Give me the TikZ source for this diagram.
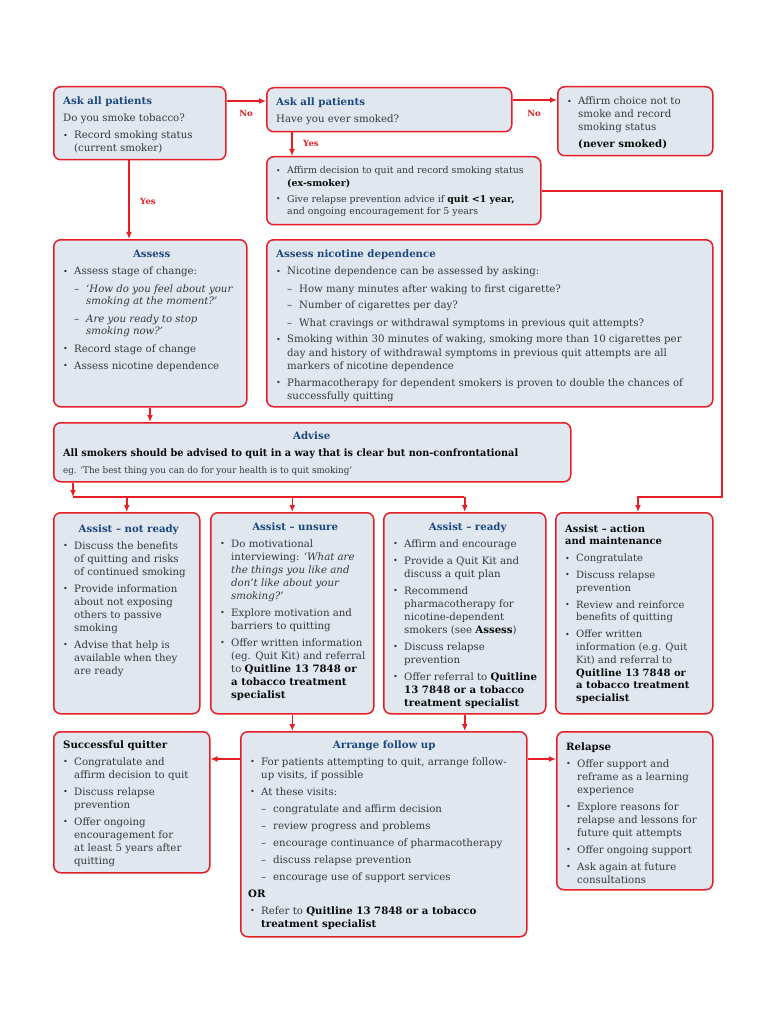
\documentclass[tikz,border=0pt]{standalone}
\usepackage{fontspec}
\setmainfont{DejaVu Serif}
\usepackage{graphicx}
\usetikzlibrary{arrows.meta}
\definecolor{ared}{RGB}{230,30,40}
\definecolor{bfill}{RGB}{225,231,239}
\definecolor{hblue}{RGB}{28,72,130}
\definecolor{tgray}{RGB}{55,55,60}
\definecolor{tblack}{RGB}{10,10,10}
\newcommand\hd[1]{\textcolor{hblue}{\bfseries #1}}
\newcommand\bk[1]{\textcolor{tblack}{\bfseries #1}}
\newcommand\bl{\par\hangindent=11pt\hangafter=1\noindent\hbox to 11pt{\raisebox{0.6pt}{\scalebox{0.8}{•}}\hss}}
\newcommand\ds{\par\hangindent=23pt\hangafter=1\noindent\hspace*{11pt}\hbox to 12pt{–\hss}}
\newcommand\bodyfmt{\raggedright\fontsize{10.2}{13}\selectfont\setlength\parskip{4pt}\setlength\parindent{0pt}}
\newcommand\bxt[2]{\begin{minipage}[t]{#1}\bodyfmt #2\end{minipage}}
\begin{document}
\begin{tikzpicture}[x=1pt,y=-1pt,
  box/.style={draw=ared, fill=bfill, line width=1.5pt, rounded corners=7pt, anchor=north west, inner sep=0pt},
  txt/.style={anchor=base west, inner sep=0pt, text=tgray},
  arr/.style={draw=ared, line width=1.5pt, -{Latex[length=7pt,width=6pt]}},
  wire/.style={draw=ared, line width=1.5pt},
  lbl/.style={text=ared, inner sep=0pt, font=\fontsize{8.5}{10}\selectfont\bfseries}]
\useasboundingbox (0,0) rectangle (768,1024);
\fill[white] (0,0) rectangle (768,1024);

% boxes
\node[box, minimum width=172pt, minimum height=73pt] (ask1) at (53,86) {};
\node[box, minimum width=245pt, minimum height=44pt] (ask2) at (266,87) {};
\node[box, minimum width=155pt, minimum height=69pt] (never) at (557,86) {};
\node[box, minimum width=274pt, minimum height=68pt] (ex) at (266,156) {};
\node[box, minimum width=193pt, minimum height=167pt] (assess) at (53,239) {};
\node[box, minimum width=446pt, minimum height=167pt] (nic) at (266,239) {};
\node[box, minimum width=517pt, minimum height=59pt] (advise) at (53,422) {};
\node[box, minimum width=146pt, minimum height=201pt] (notready) at (53,512) {};
\node[box, minimum width=163pt, minimum height=201pt] (unsure) at (210,512) {};
\node[box, minimum width=162pt, minimum height=201pt] (ready) at (383,512) {};
\node[box, minimum width=157pt, minimum height=201pt] (action) at (555,512) {};
\node[box, minimum width=156pt, minimum height=141pt] (success) at (53,731) {};
\node[box, minimum width=286pt, minimum height=205pt] (follow) at (240,731) {};
\node[box, minimum width=156pt, minimum height=158pt] (relapse) at (556,731) {};

% texts
\node[txt] (task1) at (63,105) {\bxt{158pt}{\hd{Ask all patients}\par
Do you smoke tobacco?
\bl Record smoking status\newline (current smoker)}};

\node[txt] (task2) at (276,106) {\bxt{229pt}{\hd{Ask all patients}\par
Have you ever smoked?}};

\node[txt] (tnever) at (567,105) {\bxt{141pt}{\bl Affirm choice not to\newline smoke and record\newline smoking status
\par\noindent\hspace*{11pt}\bk{(never smoked)}}};

\node[txt] (tex) at (276,174) {\bxt{260pt}{\fontsize{9.4}{12.5}\selectfont\setlength\parskip{3.5pt}%
\bl Affirm decision to quit and record smoking status\newline \bk{(ex-smoker)}
\bl Give relapse prevention advice if \bk{quit <1 year,}\newline and ongoing encouragement for 5 years}};

\node[txt] (tassess) at (63,258) {\bxt{177pt}{{\centering\hd{Assess}\par}
\bl Assess stage of change:
\ds \textit{‘How do you feel about your\newline smoking at the moment?’}
\ds \textit{Are you ready to stop\newline smoking now?’}
\bl Record stage of change
\bl Assess nicotine dependence}};

\node[txt] (tnic) at (276,258) {\bxt{432pt}{\hd{Assess nicotine dependence}\par
\bl Nicotine dependence can be assessed by asking:
\ds How many minutes after waking to first cigarette?
\ds Number of cigarettes per day?
\ds What cravings or withdrawal symptoms in previous quit attempts?
\bl Smoking within 30 minutes of waking, smoking more than 10 cigarettes per\newline day and history of withdrawal symptoms in previous quit attempts are all\newline markers of nicotine dependence
\bl Pharmacotherapy for dependent smokers is proven to double the chances of\newline successfully quitting}};

\node[txt] (tadvise) at (63,439) {\bxt{497pt}{{\centering\hd{Advise}\par}
\resizebox{455pt}{\height}{\bk{All smokers should be advised to quit in a way that is clear but non-confrontational}}\par
\resizebox{289pt}{\height}{\fontsize{9}{13}\selectfont eg. ‘The best thing you can do for your health is to quit smoking’}}};

\node[txt] (tnotready) at (63,532) {\bxt{131pt}{{\centering\hd{Assist – not ready}\par}
\bl Discuss the benefits\newline of quitting and risks\newline of continued smoking
\bl Provide information\newline about not exposing\newline others to passive\newline smoking
\bl Advise that help is\newline available when they\newline are ready}};

\node[txt] (tunsure) at (220,530) {\bxt{150pt}{{\centering\hd{Assist – unsure}\par}
\bl Do motivational\newline interviewing: \textit{‘What are\newline the things you like and\newline don’t like about your\newline smoking?’}
\bl Explore motivation and\newline barriers to quitting
\bl Offer written information\newline (eg. Quit Kit) and referral\newline to \bk{Quitline 13 7848 or\newline a tobacco treatment\newline specialist}}};

\node[txt] (tready) at (393,530) {\bxt{149pt}{{\centering\hd{Assist – ready}\par}
\bl Affirm and encourage
\bl Provide a Quit Kit and\newline discuss a quit plan
\bl Recommend\newline pharmacotherapy for\newline nicotine-dependent\newline smokers (see \bk{Assess})
\bl Discuss relapse\newline prevention
\bl Offer referral to \bk{Quitline\newline 13 7848 or a tobacco\newline treatment specialist}}};

\node[txt] (taction) at (565,532) {\bxt{144pt}{\fontsize{10}{12.8}\selectfont
\bk{Assist – action\newline and maintenance}\par
\bl Congratulate
\bl Discuss relapse\newline prevention
\bl Review and reinforce\newline benefits of quitting
\bl Offer written\newline information (e.g. Quit\newline Kit) and referral to\newline \bk{Quitline 13 7848 or\newline a tobacco treatment\newline specialist}}};

\node[txt] (tsuccess) at (63,748) {\bxt{143pt}{\bk{Successful quitter}\par
\bl Congratulate and\newline affirm decision to quit
\bl Discuss relapse\newline prevention
\bl Offer ongoing\newline encouragement for\newline at least 5 years after\newline quitting}};

\node[txt] (tfollow) at (250,748) {\bxt{268pt}{{\centering\hd{Arrange follow up}\par}
\bl For patients attempting to quit, arrange follow-\newline up visits, if possible
\bl At these visits:
\ds congratulate and affirm decision
\ds review progress and problems
\ds encourage continuance of pharmacotherapy
\ds discuss relapse prevention
\ds encourage use of support services
\par\noindent\hspace*{-2pt}\bk{OR}
\bl Refer to \bk{Quitline 13 7848 or a tobacco\newline treatment specialist}}};

\node[txt] (trelapse) at (566,750) {\bxt{143pt}{\bk{Relapse}\par
\bl Offer support and\newline reframe as a learning\newline experience
\bl Explore reasons for\newline relapse and lessons for\newline future quit attempts
\bl Offer ongoing support
\bl Ask again at future\newline consultations}};

% connectors
\draw[arr] ([yshift=-15pt]ask1.north east) -- ([yshift=-14pt]ask2.north west);
\draw[arr] ([yshift=-13pt]ask2.north east) -- ([yshift=-14pt]never.north west);
\draw[arr] ([xshift=26pt]ask2.south west) -- ([xshift=26pt]ex.north west);
\draw[arr] ([xshift=76pt]ask1.south west) -- ([xshift=76pt]assess.north west);
\draw[arr] ([xshift=97pt]assess.south west) -- ([xshift=97pt]advise.north west);
\coordinate (rc) at (722,497);
\draw[arr] ([yshift=-35pt]ex.north east) -| (rc) -| ([xshift=83pt]action.north west);
\coordinate (bus) at (73,497);
\coordinate (busend) at (464,497);
\draw[arr] ([xshift=20pt]advise.south west) -- (bus);
\draw[wire] (bus) -- (busend);
\draw[arr] (notready.north |- bus) -- (notready.north);
\draw[arr] (unsure.north |- bus) -- (unsure.north);
\draw[arr] (ready.north |- bus) -- (ready.north);
\draw[arr] (unsure.south) -- (unsure.south |- follow.north);
\draw[arr] (ready.south) -- (ready.south |- follow.north);
\draw[arr] ([yshift=-28pt]follow.north west) -- ([yshift=-28pt]success.north east);
\draw[arr] ([yshift=-28pt]follow.north east) -- ([yshift=-28pt]relapse.north west);

% labels
\node[lbl] (no1) at (246,113) {No};
\node[lbl] (no2) at (534,113) {No};
\node[lbl] (yes1) at (311,143) {Yes};
\node[lbl] (yes2) at (148,201) {Yes};
\end{tikzpicture}
\end{document}
